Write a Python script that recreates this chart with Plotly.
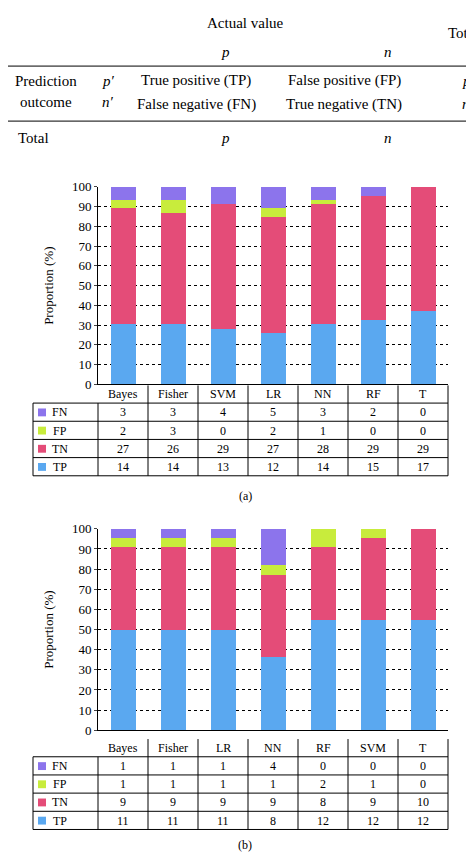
import plotly.graph_objects as go

cats_a = ["Bayes", "Fisher", "SVM", "LR", "NN", "RF", "T"]
fn_a = [3, 3, 4, 5, 3, 2, 0]
fp_a = [2, 3, 0, 2, 1, 0, 0]
tn_a = [27, 26, 29, 27, 28, 29, 29]
tp_a = [14, 14, 13, 12, 14, 15, 17]

cats_b = ["Bayes", "Fisher", "LR", "NN", "RF", "SVM", "T"]
fn_b = [1, 1, 1, 4, 0, 0, 0]
fp_b = [1, 1, 1, 1, 2, 1, 0]
tn_b = [9, 9, 9, 9, 8, 9, 10]
tp_b = [11, 11, 11, 8, 12, 12, 12]

colors = {"FN": "#8c74ec", "FP": "#c8ec3c", "TN": "#e44c78", "TP": "#5aa8f0"}
W, H = 474, 856
F = "Liberation Serif"

def py(px):
    return 1 - px / H

def pxx(px):
    return px / W

fig = go.Figure()
ann = []
shapes = []

def note(x, y, t, xref="paper", size=13):
    ann.append(dict(x=x, y=y, xref=xref, yref="paper", text=t, showarrow=False,
                    xanchor="center", yanchor="middle",
                    font=dict(family=F, size=size, color="black")))

def chart(n, cats, fn, fp, tn, tp, y0px, y100px, label_px, cap, cap_px):
    xa = "x" if n == 1 else "x2"
    ya = "y" if n == 1 else "y2"
    tot = [a + b + c + d for a, b, c, d in zip(fn, fp, tn, tp)]
    for name, vals in [("TP", tp), ("TN", tn), ("FP", fp), ("FN", fn)]:
        fig.add_trace(go.Bar(x=cats, y=[v / t * 100 for v, t in zip(vals, tot)],
                             name=name, marker=dict(color=colors[name], line=dict(width=0)),
                             width=0.5, xaxis=xa, yaxis=ya, showlegend=False))
    rows_px = [label_px + 18.5 * (i + 1) for i in range(4)]
    for c in cats:
        note(c, py(label_px), c, xref=xa, size=12)
    for (name, vals), rp in zip([("FN", fn), ("FP", fp), ("TN", tn), ("TP", tp)], rows_px):
        note(pxx(52), py(rp), name, size=12)
        shapes.append(dict(type="rect", xref="paper", yref="paper", x0=pxx(30), x1=pxx(38),
                           y0=py(rp + 4), y1=py(rp - 4), fillcolor=colors[name], line=dict(width=0)))
        for c, v in zip(cats, vals):
            note(c, py(rp), str(v), xref=xa, size=12)
    top = label_px + 9
    for i in range(5):
        yy = py(top + i * 18.5)
        shapes.append(dict(type="line", xref="paper", yref="paper", x0=pxx(25), x1=pxx(440),
                           y0=yy, y1=yy, line=dict(color="black", width=1)))
    shapes.append(dict(type="line", xref="paper", yref="paper", x0=pxx(25), x1=pxx(25),
                       y0=py(top), y1=py(top + 74), line=dict(color="black", width=1)))
    for k in range(8):
        xx = pxx(90 + k * 50)
        shapes.append(dict(type="line", xref="paper", yref="paper", x0=xx, x1=xx,
                           y0=py(top - 18 if k > 0 else top), y1=py(top + 74),
                           line=dict(color="black", width=1)))
    note(pxx(237), py(cap_px), cap, size=12)
    return [py(y0px), py(y100px)]

yd1 = chart(1, cats_a, fn_a, fp_a, tn_a, tp_a, 376, 175, 386, "(a)", 490)
yd2 = chart(2, cats_b, fn_b, fp_b, tn_b, tp_b, 728, 523, 746, "(b)", 845)

# confusion matrix table at top
def txt(x, y, t, italic=False):
    if italic:
        t = "<i>" + t + "</i>"
    note(pxx(x), py(y), t, size=15)

txt(237, 8, "Actual value")
txt(455, 18, "Total")
txt(217, 38, "p", True)
txt(380, 38, "n", True)
txt(38, 67, "Prediction")
txt(38, 89, "outcome")
txt(100, 67, "p′", True)
txt(100, 89, "n′", True)
txt(188, 67, "True positive (TP)")
txt(336, 67, "False positive (FP)")
txt(188, 91, "False negative (FN)")
txt(336, 91, "True negative (TN)")
txt(458, 67, "p", True)
txt(458, 91, "n", True)
txt(25, 125, "Total")
txt(217, 125, "p", True)
txt(380, 125, "n", True)
for yl in [52, 108]:
    shapes.append(dict(type="line", xref="paper", yref="paper", x0=0, x1=1,
                       y0=py(yl), y1=py(yl), line=dict(color="black", width=1)))

ax = dict(showgrid=True, gridcolor="black", griddash="dot", showline=True, linecolor="black",
          showticklabels=False, ticks="")
yax = dict(range=[0, 100], dtick=10, showgrid=True, gridcolor="black", griddash="dot",
           showline=True, linecolor="black", ticks="outside", ticklen=3,
           tickfont=dict(family=F, size=13, color="black"),
           title=dict(text="Proportion (%)", font=dict(family=F, size=13, color="black")))

fig.update_layout(
    width=W, height=H, margin=dict(l=0, r=0, t=0, b=0), barmode="stack",
    plot_bgcolor="white", paper_bgcolor="white",
    xaxis=dict(domain=[pxx(90), pxx(440)], anchor="y", **ax),
    yaxis=dict(domain=yd1, anchor="x", **yax),
    xaxis2=dict(domain=[pxx(90), pxx(440)], anchor="y2", **ax),
    yaxis2=dict(domain=yd2, anchor="x2", **yax),
    annotations=ann, shapes=shapes,
)
fig.write_html("out.html")
